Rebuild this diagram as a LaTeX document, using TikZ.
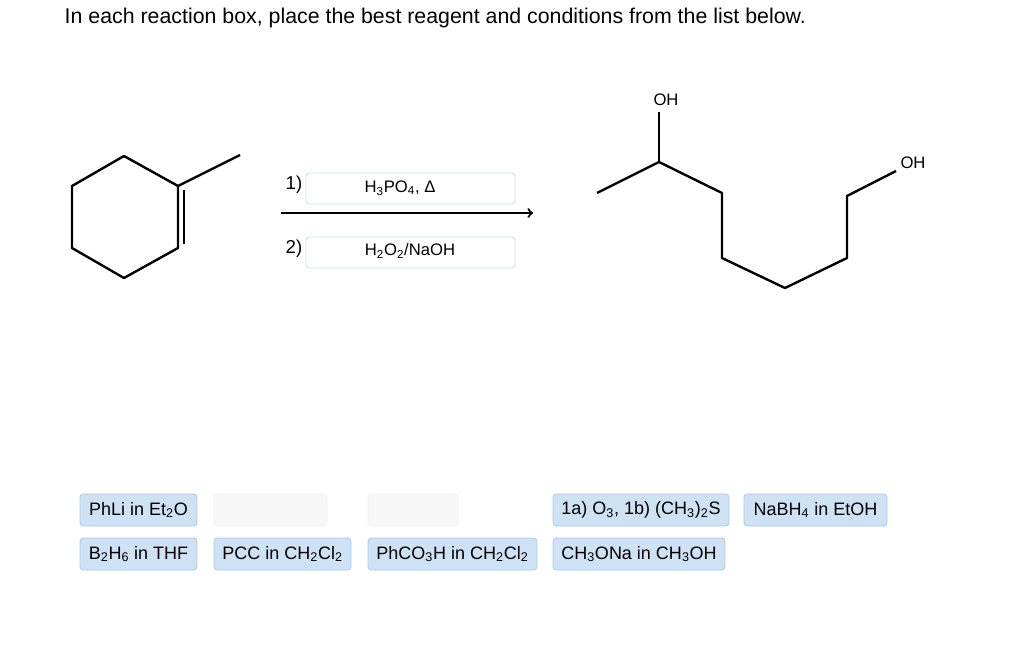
\documentclass[tikz,border=0pt]{standalone}
\usepackage{fontspec}
\setmainfont{Liberation Sans}
\newcommand{\sbs}[1]{\textsubscript{#1}}
\definecolor{chipfill}{HTML}{CFE1F5}
\definecolor{chipdraw}{HTML}{A8C8EA}
\begin{document}
\begin{tikzpicture}[x=0.75pt,y=-0.75pt,
  bond/.style={line width=1.8pt,line join=round},
  chip/.style={draw=chipdraw,fill=chipfill,rounded corners=2.5pt,line width=0.6pt},
  blank/.style={draw=gray!12,fill=gray!6,rounded corners=2.5pt},
  rbox/.style={draw=chipdraw!60,fill=white,rounded corners=2.5pt,line width=0.6pt},
  ctext/.style={font=\fontsize{13.5}{15}\selectfont,anchor=center},
  lbl/.style={font=\fontsize{12.5}{14}\selectfont}]
\useasboundingbox (0,0) rectangle (1024,664);
\node[anchor=west,font=\fontsize{16}{19}\selectfont] (title) at (60,18) {In each reaction box, place the best reagent and conditions from the list below.};
% cyclohexene
\draw[bond] (72,186) -- (124,156) -- (178,186) -- (178,248) -- (124,278) -- (72,248) -- cycle;
\draw[bond] (184,190) -- (184,244);
\draw[bond] (178,186) -- (240,155);
% arrow
\coordinate (as) at (281,213); \coordinate (ae) at (533,213);
\draw[line width=1.6pt,->,>={to}] (as) -- (ae);
\draw[rbox] (306,173) rectangle (515,204);
\draw[rbox] (306,237) rectangle (515,268);
\node[lbl] (c1) at (400,188) {H\sbs{3}PO\sbs{4}, Δ};
\node[lbl] (c2) at (410,251) {H\sbs{2}O\sbs{2}/NaOH};
\node[font=\fontsize{14}{16}\selectfont] (n1) at (294,185) {1)};
\node[font=\fontsize{14}{16}\selectfont] (n2) at (294,249) {2)};
% product
\draw[bond] (597,193) -- (659,162) -- (722,193) -- (722,258) -- (785,288) -- (847,258) -- (847,196) -- (896,171);
\draw[bond] (659,162) -- (659,112);
\node[lbl] (oh1) at (666,100) {OH};
\node[lbl] (oh2) at (913,163) {OH};
% chips
\draw[chip] (80,494) rectangle (197,526); \node[ctext] (p1) at (138.5,510) {PhLi in Et\sbs{2}O};
\draw[blank] (214,494) rectangle (327,526);
\draw[blank] (368,494) rectangle (458,526);
\draw[chip] (553,494) rectangle (729,526); \node[ctext] (p4) at (641,510) {1a) O\sbs{3}, 1b) (CH\sbs{3})\sbs{2}S};
\draw[chip] (744,494) rectangle (887,526); \node[ctext] (p5) at (815.5,510) {NaBH\sbs{4} in EtOH};
\draw[chip] (80,538) rectangle (197,570); \node[ctext] (q1) at (138.5,554) {B\sbs{2}H\sbs{6} in THF};
\draw[chip] (214,538) rectangle (351,570); \node[ctext] (q2) at (282.5,554) {PCC in CH\sbs{2}Cl\sbs{2}};
\draw[chip] (368,538) rectangle (537,570); \node[ctext] (q3) at (452.5,554) {PhCO\sbs{3}H in CH\sbs{2}Cl\sbs{2}};
\draw[chip] (553,538) rectangle (725,570); \node[ctext] (q4) at (639,554) {CH\sbs{3}ONa in CH\sbs{3}OH};
\end{tikzpicture}
\end{document}
